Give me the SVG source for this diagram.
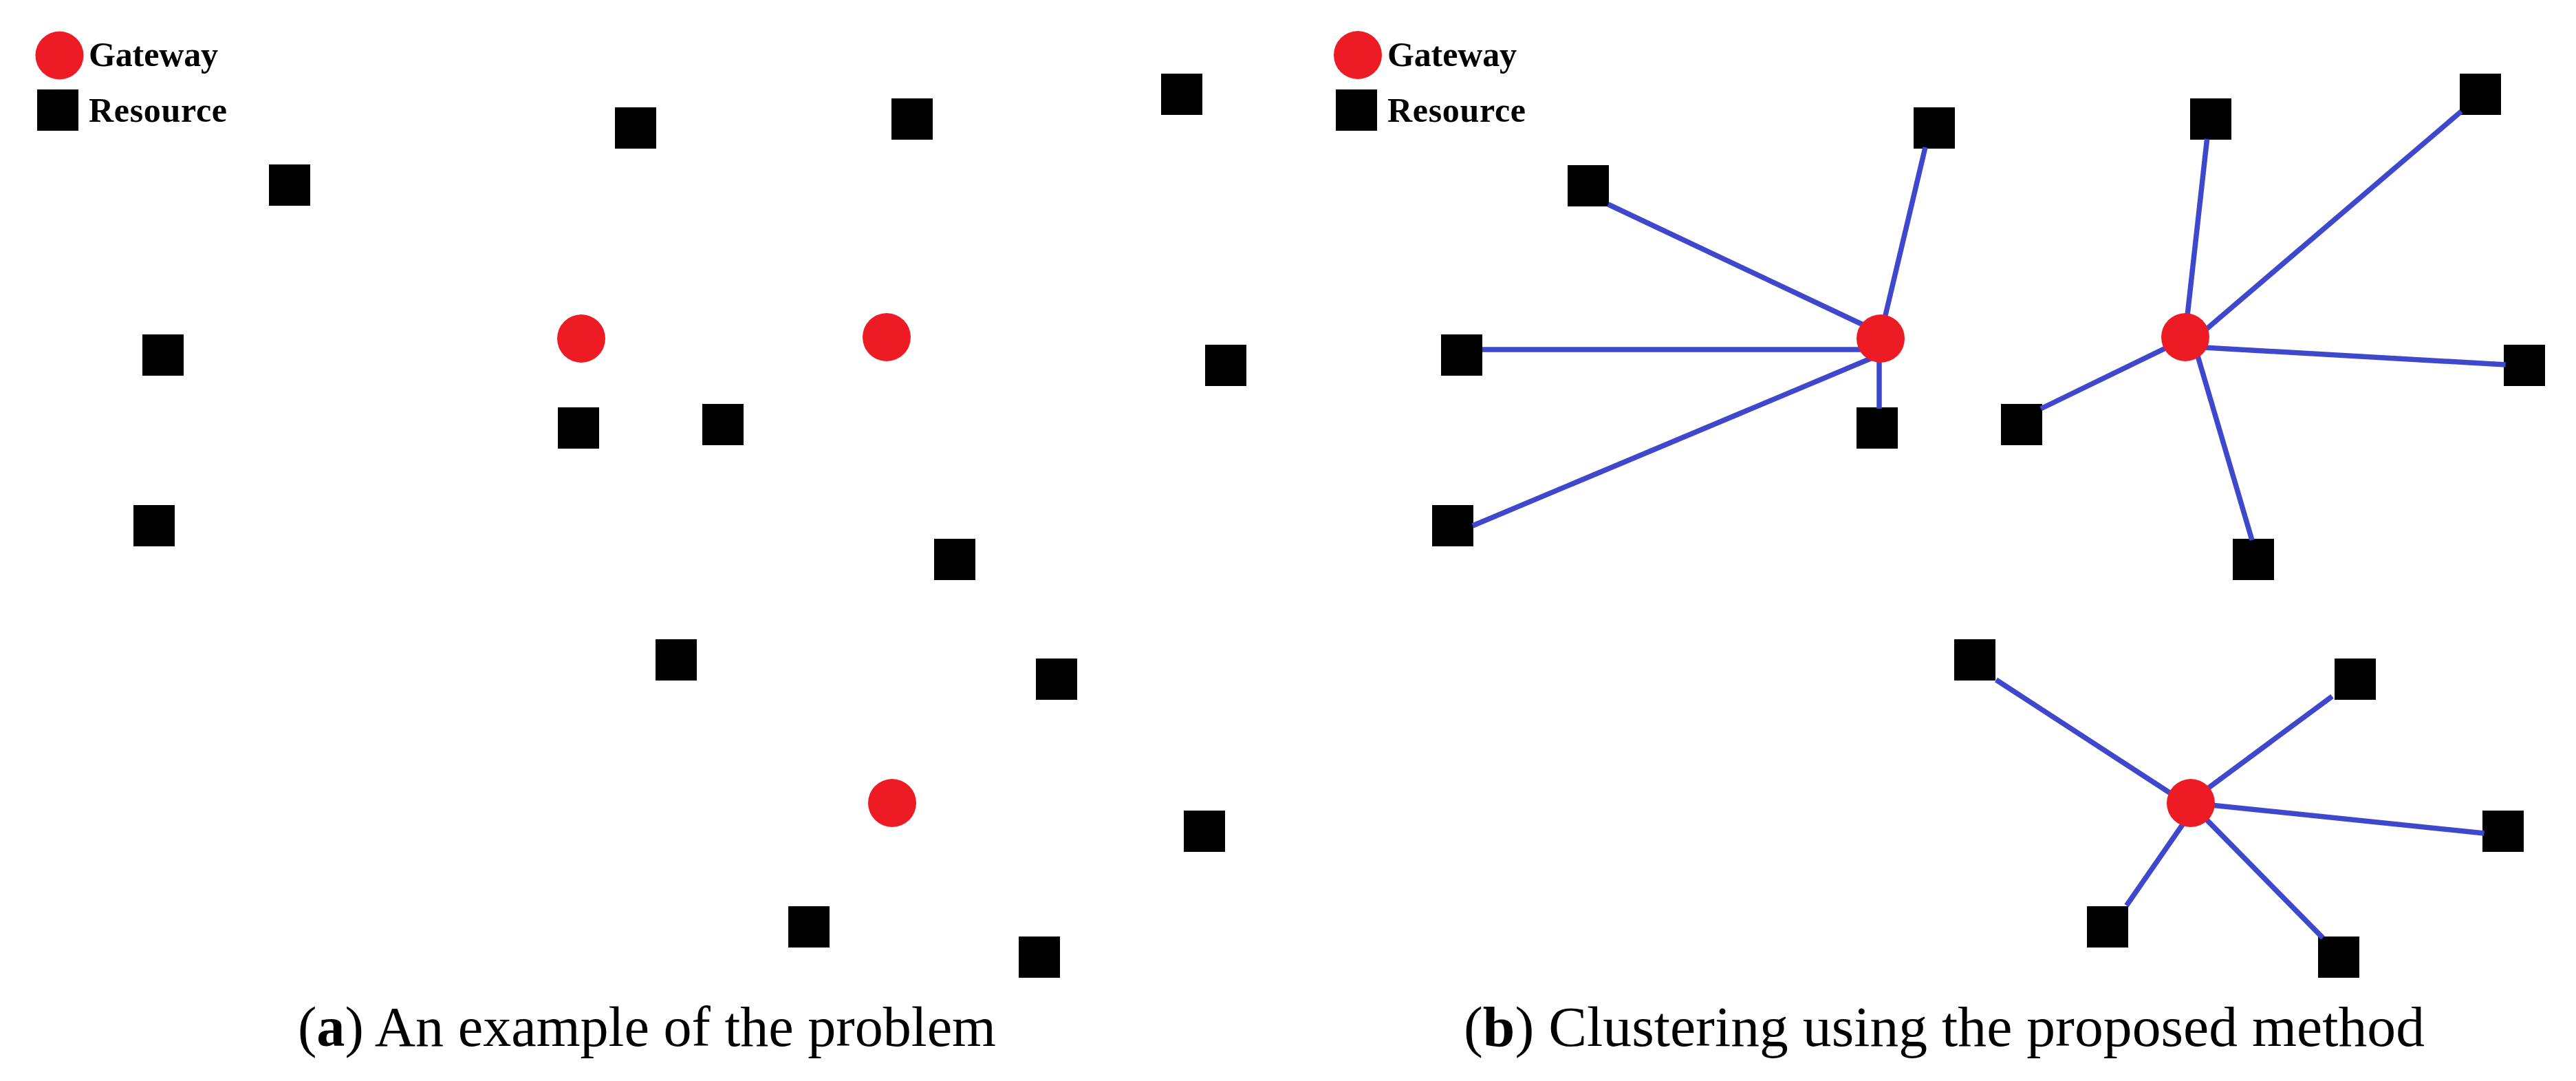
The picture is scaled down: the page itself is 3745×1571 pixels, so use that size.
<svg xmlns="http://www.w3.org/2000/svg" width="3745" height="1571" viewBox="0 0 3745 1571">
<style>
.res{fill:#000}
.gw{fill:#ed1c24}
.lbl{font-family:"Liberation Serif","Times New Roman",serif;font-weight:bold;font-size:50px;fill:#000}
.cap{font-family:"Liberation Serif","Times New Roman",serif;font-size:83px;fill:#000}
.cap tspan{font-weight:bold}
#connectors line{stroke:#3f48cc;stroke-width:7.5;fill:none}
</style>
<defs>
<rect id="r" class="res" x="-30" y="-30" width="60" height="60"/>
<circle id="g" class="gw" r="35"/>
</defs>
<rect width="3745" height="1571" fill="#fff"/>
<g id="panel-a">
<g id="legend-a-gateway"><circle class="gw" cx="86.500" cy="80.500" r="35"/><text class="lbl" x="129" y="96" textLength="188" lengthAdjust="spacing">Gateway</text></g>
<g id="legend-a-resource"><rect class="res" x="54" y="130" width="60" height="60"/><text class="lbl" x="129" y="177" textLength="201" lengthAdjust="spacing">Resource</text></g>
<g id="a-g1"><use href="#g" x="845" y="492"/></g>
<g id="a-g2"><use href="#g" x="1289" y="490"/></g>
<g id="a-g3"><use href="#g" x="1297" y="1167"/></g>
<g id="a-r1"><use href="#r" x="421" y="269"/></g>
<g id="a-r2"><use href="#r" x="924" y="186"/></g>
<g id="a-r3"><use href="#r" x="1326" y="173"/></g>
<g id="a-r4"><use href="#r" x="1718" y="137"/></g>
<g id="a-r5"><use href="#r" x="237" y="516"/></g>
<g id="a-r6"><use href="#r" x="1782" y="531"/></g>
<g id="a-r7"><use href="#r" x="841" y="622"/></g>
<g id="a-r8"><use href="#r" x="1051" y="617"/></g>
<g id="a-r9"><use href="#r" x="224" y="764"/></g>
<g id="a-r10"><use href="#r" x="1388" y="813"/></g>
<g id="a-r11"><use href="#r" x="983" y="959"/></g>
<g id="a-r12"><use href="#r" x="1536" y="987"/></g>
<g id="a-r13"><use href="#r" x="1751" y="1208"/></g>
<g id="a-r14"><use href="#r" x="1176" y="1347"/></g>
<g id="a-r15"><use href="#r" x="1511" y="1391"/></g>
<text class="cap" x="433" y="1520" textLength="1015" lengthAdjust="spacingAndGlyphs">(<tspan>a</tspan>) An example of the problem</text>
</g>
<g id="panel-b">
<g id="legend-b-gateway"><circle class="gw" cx="1974" cy="80" r="35"/><text class="lbl" x="2017" y="96" textLength="188" lengthAdjust="spacing">Gateway</text></g>
<g id="legend-b-resource"><rect class="res" x="1942" y="130" width="60" height="60"/><text class="lbl" x="2017" y="177" textLength="201" lengthAdjust="spacing">Resource</text></g>
<g id="b-r1"><use href="#r" x="2309" y="270"/></g>
<g id="b-r2"><use href="#r" x="2812" y="186"/></g>
<g id="b-r3"><use href="#r" x="3214" y="173"/></g>
<g id="b-r4"><use href="#r" x="3606" y="137"/></g>
<g id="b-r5"><use href="#r" x="2125" y="516"/></g>
<g id="b-r6"><use href="#r" x="3670" y="531"/></g>
<g id="b-r7"><use href="#r" x="2729" y="622"/></g>
<g id="b-r8"><use href="#r" x="2939" y="617"/></g>
<g id="b-r9"><use href="#r" x="2112" y="764"/></g>
<g id="b-r10"><use href="#r" x="3276" y="813"/></g>
<g id="b-r11"><use href="#r" x="2871" y="959"/></g>
<g id="b-r12"><use href="#r" x="3424" y="987"/></g>
<g id="b-r13"><use href="#r" x="3639" y="1208"/></g>
<g id="b-r14"><use href="#r" x="3064" y="1347"/></g>
<g id="b-r15"><use href="#r" x="3400" y="1391"/></g>
<g id="connectors">
<line x1="2734" y1="484" x2="2338" y2="297"/>
<line x1="2733" y1="492" x2="2799" y2="214"/>
<line x1="2734" y1="508" x2="2155" y2="508"/>
<line x1="2732" y1="492" x2="2732" y2="594"/>
<line x1="2734" y1="515" x2="2141" y2="764"/>
<line x1="3176.500" y1="490" x2="3208.600" y2="202"/>
<line x1="3177" y1="504.500" x2="3578" y2="162"/>
<line x1="3177" y1="503.400" x2="3642.700" y2="530"/>
<line x1="3177" y1="492" x2="2967" y2="594"/>
<line x1="3187" y1="490" x2="3274" y2="785"/>
<line x1="3185" y1="1172" x2="2902" y2="988"/>
<line x1="3185" y1="1164" x2="3390.500" y2="1012"/>
<line x1="3185" y1="1167" x2="3611.500" y2="1211"/>
<line x1="3183" y1="1184" x2="3091.500" y2="1316"/>
<line x1="3190" y1="1173" x2="3377" y2="1363"/>
</g>
<g id="b-g1"><use href="#g" x="2734" y="492"/></g>
<g id="b-g2"><use href="#g" x="3177" y="490"/></g>
<g id="b-g3"><use href="#g" x="3185" y="1167"/></g>
<text class="cap" x="2128" y="1520" textLength="1397" lengthAdjust="spacingAndGlyphs">(<tspan>b</tspan>) Clustering using the proposed method</text>
</g>
</svg>
